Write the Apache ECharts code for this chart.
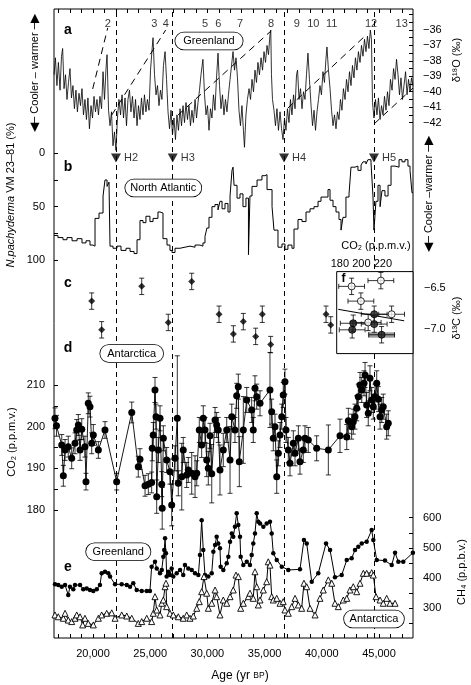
<!DOCTYPE html>
<html><head><meta charset="utf-8">
<script src="https://cdn.jsdelivr.net/npm/echarts@6/dist/echarts.min.js"></script>
<style>html,body{margin:0;padding:0;background:#fff}#c{width:471px;height:685px}</style>
</head><body><div id="c"></div>
<script>
// ---------------- DATA ----------------
const ageTicks = [17000,18000,19000,20000,21000,22000,23000,24000,25000,26000,27000,28000,29000,30000,31000,32000,33000,34000,35000,36000,37000,38000,39000,40000,41000,42000,43000,44000,45000,46000,47000];
const ageLabels = [20000,25000,30000,35000,40000,45000];
const d18Labels = [-36,-37,-38,-39,-40,-41,-42];
const d18Ticks = [-35,-35.5,-36,-36.5,-37,-37.5,-38,-38.5,-39,-39.5,-40,-40.5,-41,-41.5,-42];
const pachyLabels = [0,50,100];
const pachyTicks = [0,25,50,75,100];
const c13Labels = [-6.5,-7.0];
const c13Ticks = [-6.3,-6.4,-6.5,-6.6,-6.7,-6.8,-6.9,-7.0,-7.1,-7.2];
const co2Labels = [180,190,200,210];
const co2Ticks = [180,185,190,195,200,205,210];
const ch4Labels = [300,400,500,600];
const ch4Ticks = [250,300,350,400,450,500,550,600];
const insetLabels = [180,200,220];

// Heinrich events
const hNames = ['H2','H3','H4','H5'];
const hAges = [22010,26970,36700,44560];

// Interstadial numbers (panel a)
const isNums = ['2','3','4','5','6','7','8','9','10','11','12','13'];
const isAges = [21290,25360,26360,29790,30950,32850,35560,37810,39260,40860,44300,46980];

// Greenland d18O (age yr BP, permil)
const d18O = [[16600,-38.9],[16720,-37.8],[16850,-39.6],[16980,-38.1],[17120,-39.9],[17250,-37.7],[17350,-37.2],[17470,-39.8],[17600,-38.9],[17730,-40.5],[17860,-39.4],[17990,-38.5],[18120,-40.4],[18250,-39.6],[18380,-41.1],[18510,-39.9],[18640,-41.3],[18780,-40.1],[18910,-40.9],[19040,-39.8],[19170,-41.5],[19300,-40.5],[19430,-41.8],[19560,-40.4],[19690,-42.4],[19830,-40.9],[19960,-41.7],[20090,-40.3],[20220,-41.3],[20350,-40.5],[20480,-41.5],[20610,-40.3],[20750,-41.1],[20880,-38.7],[21010,-40.5],[21140,-38.5],[21230,-37.6],[21360,-41.2],[21490,-42.2],[21620,-41.3],[21750,-43.5],[21880,-42.6],[22010,-43.8],[22140,-41.7],[22270,-40.5],[22410,-41.5],[22540,-40.2],[22670,-41.7],[22800,-40.4],[22930,-42.2],[23060,-40.5],[23190,-39.9],[23320,-41.3],[23450,-40.3],[23590,-41.7],[23720,-40.5],[23850,-42.2],[23980,-40.9],[24110,-41.8],[24240,-40.4],[24370,-41.5],[24500,-40.2],[24630,-41.3],[24760,-40.5],[24900,-41.2],[25030,-38.6],[25160,-37.3],[25250,-36.5],[25380,-38.9],[25510,-40.2],[25640,-39.6],[25770,-40.9],[25900,-39.9],[26030,-40.5],[26160,-38.3],[26300,-37.4],[26430,-39.2],[26560,-41.3],[26690,-42.4],[26820,-41.2],[26950,-42.8],[27080,-41.7],[27210,-43.1],[27340,-41.5],[27470,-42.5],[27610,-41.1],[27740,-42.2],[27870,-40.9],[28000,-42.0],[28130,-40.7],[28260,-41.8],[28390,-40.9],[28520,-42.2],[28650,-41.2],[28780,-42.0],[28920,-40.5],[29050,-41.7],[29180,-40.7],[29310,-39.9],[29440,-38.9],[29610,-37.9],[29750,-40.2],[29880,-41.5],[30010,-40.9],[30140,-42.5],[30270,-41.1],[30400,-41.7],[30530,-40.2],[30660,-41.2],[30790,-39.2],[30930,-37.5],[31060,-39.6],[31190,-41.1],[31320,-40.2],[31450,-41.5],[31580,-40.5],[31710,-41.3],[31840,-40.2],[31980,-39.2],[32110,-38.3],[32240,-37.4],[32370,-38.6],[32500,-37.8],[32630,-39.1],[32760,-41.2],[32890,-42.2],[33020,-40.9],[33150,-42.5],[33240,-43.6],[33370,-41.5],[33500,-40.5],[33640,-39.8],[33770,-40.5],[33900,-39.2],[34030,-40.0],[34160,-38.6],[34290,-39.4],[34420,-38.1],[34550,-38.9],[34690,-37.8],[34820,-38.6],[34950,-37.4],[35080,-38.1],[35210,-37.0],[35340,-37.6],[35470,-36.3],[35540,-36.0],[35600,-38.9],[35690,-40.5],[35820,-41.2],[35950,-42.2],[36080,-41.1],[36210,-42.5],[36350,-41.3],[36480,-42.4],[36610,-43.1],[36740,-41.7],[36870,-42.5],[37000,-41.1],[37130,-42.0],[37260,-40.5],[37390,-41.5],[37530,-40.2],[37660,-41.1],[37790,-38.9],[37880,-38.6],[38010,-40.5],[38140,-39.8],[38270,-41.1],[38400,-40.0],[38530,-40.5],[38660,-38.9],[38790,-37.5],[38920,-39.2],[39060,-40.9],[39190,-42.2],[39320,-41.2],[39450,-42.5],[39580,-41.3],[39710,-40.5],[39840,-39.6],[39970,-40.2],[40100,-38.7],[40230,-39.4],[40360,-37.9],[40450,-37.1],[40580,-38.6],[40720,-39.8],[40850,-41.2],[40980,-42.2],[41110,-41.5],[41240,-42.4],[41370,-41.3],[41500,-41.8],[41630,-40.5],[41760,-41.2],[41890,-39.8],[42030,-40.5],[42160,-39.2],[42290,-40.0],[42420,-38.7],[42550,-39.6],[42680,-38.3],[42810,-39.1],[42940,-37.8],[43070,-38.6],[43200,-37.4],[43340,-38.1],[43470,-37.0],[43600,-37.7],[43730,-36.6],[43860,-37.4],[43990,-36.4],[44120,-37.2],[44240,-36.0],[44340,-36.6],[44430,-40.7],[44560,-41.7],[44690,-40.5],[44820,-41.5],[44950,-40.4],[45090,-41.8],[45220,-40.9],[45350,-41.5],[45480,-40.3],[45610,-41.2],[45740,-40.0],[45870,-40.9],[46000,-39.2],[46140,-39.9],[46270,-38.5],[46400,-39.2],[46530,-37.9],[46660,-38.9],[46790,-40.2],[46920,-39.1],[47050,-40.5],[47180,-39.6],[47320,-38.7],[47450,-40.2],[47580,-39.2],[47710,-40.0],[47840,-39.1],[47960,-39.6]];

// Sawtooth (Bond cycle) trend lines: [startAge, startVal, endAge, endVal]
const sawLines = [[19976,-39.82,21287,-35.87],[21637,-41.51,26356,-36.0],[27431,-41.51,35559,-36.06],[37045,-41.05,43688,-36.45],[44562,-42.09,47970,-39.76]];

// N. pachyderma (%) step record
const pachy = [[16600,77],[16940,79],[17380,81],[17730,79],[18170,82],[18610,80],[19040,84],[19390,82],[19740,86],[20000,87],[20180,61],[20530,56],[20880,40],[21050,25],[21230,31],[21400,27],[21490,87],[21750,89],[22100,87],[22450,91],[22890,89],[23240,92],[23590,94],[23850,81],[24110,63],[24370,65],[24630,59],[24980,64],[25250,61],[25680,55],[25860,56],[26120,80],[26470,86],[26730,91],[26910,93],[27170,89],[27610,88],[28040,87],[28480,88],[28920,86],[29350,87],[29610,84],[29790,78],[29960,70],[30140,60],[30400,50],[30660,48],[30930,53],[31100,45],[31280,52],[31540,47],[31800,55],[31980,40],[32150,16],[32240,13],[32330,30],[32590,42],[32850,38],[33110,50],[33370,42],[33590,95],[33720,40],[33900,31],[34340,25],[34770,21],[35030,20],[35210,34],[35650,50],[35820,72],[36170,88],[36520,85],[36780,90],[37040,86],[37390,89],[37570,71],[37920,62],[38270,64],[38620,55],[38970,52],[39320,50],[39670,45],[39930,41],[40280,41],[40540,34],[40720,44],[40980,50],[41240,55],[41500,62],[41680,72],[41850,60],[42110,41],[42380,38],[42550,13],[42900,12],[43160,16],[43430,11],[43600,8],[43860,10],[44030,6],[44300,9],[44470,40],[44560,72],[44730,45],[44910,30],[45090,50],[45260,35],[45520,40],[45790,30],[46050,12],[46400,13],[46750,6],[47010,8],[47270,6],[47530,12],[47710,16],[47880,37],[47970,37]];
const hMarkerVal = 4.4;

// delta13C of CO2 (panel c)
const c13Age = [19890,20760,24260,26580,28630,31020,32270,33140,34220,34800,35530,40370,40780];
const c13Val = [-6.66,-7.01,-6.48,-6.92,-6.42,-6.82,-7.06,-6.91,-7.09,-6.82,-7.19,-6.82,-6.95];
const c13Err = 0.1;

// Inset f: CO2 vs delta13C
const fCO2 = [218.1,190.9,199.5,211.9,228.1,192.4,206.3,211.9,191.4,218.8];
const fC13 = [-6.41,-6.48,-6.66,-6.82,-6.82,-6.93,-6.92,-6.94,-7.01,-7.07];
const fFilled = [false,false,false,true,false,true,false,true,true,true];
const fCO2Err = 12;
const fC13Err = 0.1;
const fReg = [[178.4,-6.76],[239.8,-6.90]];
const fShade = [206.3,231.2,-7.04,-7.106];

// Antarctic CO2 (age, ppmv, error)
const co2 = [[16680,202.0,2.5],[16810,200.2,2.5],[17270,195.6,2.5],[17410,188.2,2.5],[17560,194.4,2.5],[17840,195.2,2.5],[18140,192.4,2.5],[18430,196.0,2.5],[18580,199.2,2.5],[18720,200.4,2.5],[18870,194.4,2.5],[19020,199.4,2.5],[19300,195.2,2.5],[19390,186.8,2],[19590,205.6,2.5],[19740,204.8,2.5],[19890,196.0,2.5],[20030,198.0,2.5],[20470,194.4,2],[21050,199.2,2],[22070,186.8,2],[23390,203.4,2.5],[23960,190.4,2.5],[24110,192.2,2.5],[24550,185.8,2.5],[24840,186.2,2.5],[25130,186.6,2.5],[25180,194.8,3],[25270,198.0,3],[25420,208.8,3],[25510,202.4,3],[25570,183.2,4],[25710,194.4,3],[25860,202.0,3],[26010,186.2,3],[26050,180.4,5],[26150,197.2,3],[26440,192.0,3],[26730,189.2,3],[26880,181.2,5],[27170,192.4,3],[27370,202.0,15],[27460,186.4,3],[27760,188.0,8],[27890,194.4,3],[28190,188.4,3],[28330,189.6,3],[28630,188.8,5],[28920,188.0,5],[29070,188.8,3],[29290,199.2,3],[29500,195.6,3],[29640,202.0,3],[29790,199.2,3],[29940,192.0,4],[30080,190.0,4],[30230,197.8,3],[30380,188.7,7],[30670,201.6,3],[30810,200.4,3],[30950,199.2,3],[31100,189.6,6],[31390,194.4,4],[31690,199.2,3],[31980,192.0,8],[32130,202.4,3],[32410,199.2,3],[32560,207.4,3],[32700,209.6,3],[32790,191.6,6],[33140,199.2,8],[33440,206.4,3],[33870,204.0,3],[34010,199.2,3],[34160,209.2,3],[34310,207.2,3],[34600,205.6,3],[35470,208.8,9],[35620,203.6,3],[35760,197.2,3],[35910,200.0,3],[36060,188.0,4],[36200,193.6,3],[36350,198.0,3],[36500,202.4,3],[36630,207.6,3],[36780,210.8,3],[36870,199.2,3],[37070,194.4,3],[37220,191.2,3],[37510,196.0,3],[37660,193.6,3],[37950,197.2,3],[38090,191.6,3],[38380,194.4,3],[38530,197.2,3],[38820,196.8,3],[39550,194.8,3],[40570,194.4,6],[41590,197.8,4],[42180,197.5,3],[42320,201.4,3],[42610,200.0,3],[42750,201.2,3],[42900,202.4,3],[43050,204.4,3],[43190,207.2,3],[43340,210.0,3],[43490,208.8,3],[43690,210.4,3],[43780,212.4,3],[43920,205.2,3],[44060,203.2,3],[44210,211.6,3],[44360,206.4,3],[44500,204.8,3],[44650,207.2,3],[44800,210.4,3],[44940,206.6,3],[45090,202.4,3],[45240,204.0,3],[45370,204.8,3],[45670,200.0,3],[45810,200.8,3]];

// CH4 Greenland (age, ppbv)
const ch4Green = [[16680,379.5],[16970,377],[17270,371.5],[17560,377],[17840,344],[17990,371.5],[18280,363],[18430,377],[18870,377],[19150,363],[19450,366],[19740,360.6],[20030,357],[20330,363],[20610,377],[20760,416],[21050,421],[21340,416],[21490,405],[21930,379.5],[22510,379.5],[22950,377],[23240,371.5],[23520,383],[23820,360.6],[24260,357],[24700,357],[24980,357],[25130,438],[25420,454],[25570,432],[25860,416],[26010,427],[26150,471],[26230,493],[26300,532],[26380,482],[26440,405],[26580,421],[26730,410],[26880,432],[27020,405],[27320,416],[27610,427],[27890,410],[28040,443],[28330,432],[28630,427],[28920,416],[29210,410],[29350,476.5],[29500,592],[29640,493],[29790,410],[30080,405],[30380,416],[30520,487],[30670,510],[30810,537],[30950,515],[31100,499],[31160,438],[31390,427],[31690,449],[31830,471],[31980,520.5],[32130,548],[32260,537],[32410,570],[32560,614.6],[32700,576],[32850,537],[32910,471],[33140,443],[33440,454],[33720,443],[33870,476.5],[34010,515],[34160,548],[34310,614.6],[34450,587],[34600,581],[34890,570],[35180,581],[35470,587],[35620,548],[35760,482],[36060,460],[36500,438],[37070,427],[38090,429],[38440,526],[38680,515],[39120,388],[39690,416],[40370,515],[40720,493],[41150,403],[41740,410],[42180,460],[42610,466],[42900,493],[43190,504],[43490,515],[43920,520.5],[44360,559],[44500,526],[44800,460],[45520,458],[46110,443],[46400,484],[46690,454],[47120,454],[47960,484]];

// CH4 Antarctica (age, ppbv)
const ch4Ant = [[16680,278],[16970,272],[17410,267],[17560,283.5],[17840,261],[18140,256],[18430,267],[18580,278],[18870,272],[19100,245],[19300,267],[19590,250],[20030,245],[20470,267],[20760,278],[21200,283.5],[21640,285],[21930,267],[22510,278],[22950,274.5],[23390,267],[23960,250],[24260,256],[24700,267],[25130,256],[25270,283.5],[25420,338.5],[25570,294.4],[25860,278],[26010,316.6],[26150,327.5],[26300,371.5],[26380,383],[26440,305.5],[26730,283.5],[27020,278],[27460,272],[27890,267],[28190,278],[28480,267],[28770,274.5],[29070,300],[29290,322],[29500,355],[29700,405],[29940,350],[30080,300],[30380,316.6],[30670,360.6],[30810,338.5],[31100,278],[31390,327.5],[31690,316.6],[31980,338.5],[32260,360.6],[32500,410],[32700,405],[32910,300],[33140,316.6],[33580,338.5],[33720,350],[34010,333],[34160,421],[34310,371.5],[34450,311],[34600,327.5],[34890,360.6],[35180,388],[35320,454],[35470,443],[35620,338.5],[35760,327.5],[36060,333],[36350,316.6],[36630,322],[36780,294.4],[37070,283.5],[37370,305.5],[37660,333],[37950,311],[38240,300],[38440,383],[38680,371.5],[38970,300],[39410,278],[39840,333],[40130,360.6],[40570,394],[40870,383],[41150,316.6],[41440,305.5],[41880,327.5],[42180,333],[42460,360.6],[42750,371.5],[43050,355],[43340,383],[43630,416],[43920,416],[44360,418],[44500,410],[44740,338.5],[45090,327.5],[45370,316.6],[45670,333],[45960,316.6],[46400,316.6]];

// ---------------- CHART ----------------
const XMIN = 16594, XMAX = 47970;
const FONT = 'Liberation Sans, Arial, Helvetica, sans-serif';
const BLACK = '#000';
const minus = v => (v < 0 ? '\u2212' : '') + Math.abs(v);
const tk = { show: true, inside: true, length: 4, lineStyle: { color: BLACK, width: 1 } };
const lbl = { color: BLACK, fontSize: 11, fontFamily: FONT };

function hiddenX(g) { return { gridIndex: g, type: 'value', min: XMIN, max: XMAX, show: false }; }

function vErr(capW) {
  return function (params, api) {
    const x = api.value(0), y = api.value(1), e = api.value(2);
    const p1 = api.coord([x, y + e]), p2 = api.coord([x, y - e]);
    const s = { stroke: BLACK, lineWidth: 0.8 };
    return { type: 'group', children: [
      { type: 'line', shape: { x1: p1[0], y1: p1[1], x2: p2[0], y2: p2[1] }, style: s },
      { type: 'line', shape: { x1: p1[0] - capW, y1: p1[1], x2: p1[0] + capW, y2: p1[1] }, style: s },
      { type: 'line', shape: { x1: p2[0] - capW, y1: p2[1], x2: p2[0] + capW, y2: p2[1] }, style: s }
    ]};
  };
}
function xyErr(params, api) {
  const x = api.value(0), y = api.value(1), ex = api.value(2), ey = api.value(3);
  const a = api.coord([x - ex, y]), b = api.coord([x + ex, y]);
  const c = api.coord([x, y + ey]), d = api.coord([x, y - ey]);
  const s = { stroke: BLACK, lineWidth: 0.8 }, w = 2.5;
  return { type: 'group', children: [
    { type: 'line', shape: { x1: a[0], y1: a[1], x2: b[0], y2: b[1] }, style: s },
    { type: 'line', shape: { x1: a[0], y1: a[1] - w, x2: a[0], y2: a[1] + w }, style: s },
    { type: 'line', shape: { x1: b[0], y1: b[1] - w, x2: b[0], y2: b[1] + w }, style: s },
    { type: 'line', shape: { x1: c[0], y1: c[1], x2: d[0], y2: d[1] }, style: s },
    { type: 'line', shape: { x1: c[0] - w, y1: c[1], x2: c[0] + w, y2: c[1] }, style: s },
    { type: 'line', shape: { x1: d[0] - w, y1: d[1], x2: d[0] + w, y2: d[1] }, style: s }
  ]};
}

function txt(x, y, text, opt) {
  opt = opt || {};
  return { type: 'text', x: x, y: y, z: 100, rotation: opt.rot || 0,
    style: Object.assign({ text: text, align: 'center', verticalAlign: 'middle', fill: BLACK,
      fontSize: opt.size || 11, fontFamily: FONT, fontWeight: opt.bold ? 'bold' : 'normal' }, opt.style || {}) };
}
function box(x, y, text, padX) {
  return txt(x, y, text, { style: { backgroundColor: '#fff', borderColor: BLACK, borderWidth: 0.8,
    borderRadius: 9, padding: [3, padX, 3, padX] } });
}
const arrowRich = { a: { fontSize: 12, fontFamily: FONT, fill: BLACK }, t: { fontSize: 11, fontFamily: FONT, fill: BLACK } };

const option = {
  animation: false,
  backgroundColor: '#fff',
  textStyle: { fontFamily: FONT },
  grid: [
    { left: 54, top: 9, width: 359, height: 629, show: true, borderColor: BLACK, borderWidth: 1, backgroundColor: 'transparent', z: 0 },
    { left: 54, top: 14.57, width: 359, height: 138.9 },
    { left: 54, top: 153.3, width: 359, height: 106.7 },
    { left: 54, top: 271.6, width: 359, height: 82 },
    { left: 336.7, top: 271.6, width: 76.3, height: 82, show: true, borderColor: BLACK, borderWidth: 1, backgroundColor: '#fff', z: 1 },
    { left: 54, top: 343.3, width: 359, height: 175 },
    { left: 54, top: 499.6, width: 359, height: 138.9 }
  ],
  xAxis: [
    { gridIndex: 0, type: 'value', min: XMIN, max: XMAX, position: 'bottom',
      axisLine: { show: false }, splitLine: { show: false },
      axisTick: Object.assign({ customValues: ageTicks }, tk),
      axisLabel: Object.assign({ customValues: ageLabels, margin: 10, formatter: v => v.toLocaleString('en-US') }, lbl) },
    { gridIndex: 0, type: 'value', min: XMIN, max: XMAX, position: 'top',
      axisLine: { show: false }, splitLine: { show: false },
      axisTick: Object.assign({ customValues: ageTicks }, tk), axisLabel: { show: false } },
    hiddenX(1), hiddenX(2), hiddenX(3),
    { gridIndex: 4, type: 'value', min: 177, max: 248, position: 'top',
      axisLine: { show: false }, axisTick: { show: false }, splitLine: { show: false },
      axisLabel: Object.assign({ customValues: insetLabels, margin: 2 }, lbl) },
    hiddenX(5), hiddenX(6)
  ],
  yAxis: [
    { gridIndex: 0, type: 'value', min: 0, max: 1, show: false },
    { gridIndex: 1, type: 'value', min: -44, max: -35, position: 'right',
      axisLine: { show: false }, splitLine: { show: false },
      axisTick: Object.assign({ customValues: d18Ticks }, tk),
      axisLabel: Object.assign({ customValues: d18Labels, margin: 10, formatter: minus }, lbl) },
    { gridIndex: 2, type: 'value', min: 0, max: 100, inverse: true, position: 'left',
      axisLine: { show: false }, splitLine: { show: false },
      axisTick: Object.assign({ customValues: pachyTicks }, tk),
      axisLabel: Object.assign({ customValues: pachyLabels, margin: 9 }, lbl) },
    { gridIndex: 3, type: 'value', min: -7.3, max: -6.3, position: 'right',
      axisLine: { show: false }, splitLine: { show: false },
      axisTick: Object.assign({ customValues: c13Ticks }, tk),
      axisLabel: Object.assign({ customValues: c13Labels, margin: 11, formatter: v => (v < 0 ? '\u2212' : '') + Math.abs(v).toFixed(1) }, lbl) },
    { gridIndex: 4, type: 'value', min: -7.3, max: -6.3, show: false },
    { gridIndex: 5, type: 'value', min: 178, max: 220, position: 'left',
      axisLine: { show: false }, splitLine: { show: false },
      axisTick: Object.assign({ customValues: co2Ticks }, tk),
      axisLabel: Object.assign({ customValues: co2Labels, margin: 9 }, lbl) },
    { gridIndex: 6, type: 'value', min: 200, max: 660, position: 'right',
      axisLine: { show: false }, splitLine: { show: false },
      axisTick: Object.assign({ customValues: ch4Ticks }, tk),
      axisLabel: Object.assign({ customValues: ch4Labels, margin: 10 }, lbl) }
  ],
  series: [
    // Heinrich vertical dashed lines across the whole figure
    { type: 'lines', coordinateSystem: 'cartesian2d', xAxisIndex: 0, yAxisIndex: 0, z: 0, silent: true,
      lineStyle: { color: BLACK, width: 1, type: [5, 4], opacity: 1 },
      data: hAges.map(a => ({ coords: [[a, 0], [a, 1]] })) },
    // a: d18O
    { type: 'line', xAxisIndex: 2, yAxisIndex: 1, data: d18O, showSymbol: false, symbol: 'none',
      lineStyle: { color: BLACK, width: 0.8 } },
    { type: 'lines', coordinateSystem: 'cartesian2d', xAxisIndex: 2, yAxisIndex: 1, silent: true,
      lineStyle: { color: BLACK, width: 1, type: [7, 5], opacity: 1 },
      data: sawLines.map(s => ({ coords: [[s[0], s[1]], [s[2], s[3]]] })) },
    { type: 'scatter', xAxisIndex: 2, yAxisIndex: 1, symbolSize: 0.1, itemStyle: { color: 'transparent' },
      data: isAges.map(a => [a, -35.61]),
      label: { show: true, position: 'inside', formatter: p => isNums[p.dataIndex], color: BLACK, fontSize: 11, fontFamily: FONT } },
    // b: N. pachyderma
    { type: 'line', xAxisIndex: 3, yAxisIndex: 2, data: pachy, step: 'end', showSymbol: false, symbol: 'none',
      lineStyle: { color: BLACK, width: 1 } },
    { type: 'scatter', xAxisIndex: 3, yAxisIndex: 2, symbol: 'triangle', symbolRotate: 180, symbolSize: [10, 9],
      itemStyle: { color: BLACK }, data: hAges.map(a => [a, hMarkerVal]),
      label: { show: true, position: 'right', distance: 3, formatter: p => hNames[p.dataIndex], color: BLACK, fontSize: 11, fontFamily: FONT } },
    // c: d13C
    { type: 'custom', xAxisIndex: 4, yAxisIndex: 3, renderItem: vErr(2.5), encode: { x: 0, y: 1 },
      data: c13Age.map((a, i) => [a, c13Val[i], c13Err]) },
    { type: 'scatter', xAxisIndex: 4, yAxisIndex: 3, symbol: 'diamond', symbolSize: 7, itemStyle: { color: BLACK },
      data: c13Age.map((a, i) => [a, c13Val[i]]) },
    // f: inset
    { type: 'custom', xAxisIndex: 5, yAxisIndex: 4, z: 3, encode: { x: 0, y: 2 },
      renderItem: (params, api) => {
        const p1 = api.coord([api.value(0), api.value(2)]), p2 = api.coord([api.value(1), api.value(3)]);
        return { type: 'rect', shape: { x: p1[0], y: p1[1], width: p2[0] - p1[0], height: p2[1] - p1[1] }, style: { fill: '#9a9a9a' } };
      }, data: [fShade] },
    { type: 'lines', coordinateSystem: 'cartesian2d', xAxisIndex: 5, yAxisIndex: 4, z: 3,
      lineStyle: { color: BLACK, width: 1, opacity: 1 }, data: [{ coords: fReg }] },
    { type: 'custom', xAxisIndex: 5, yAxisIndex: 4, z: 4, renderItem: xyErr, encode: { x: 0, y: 1 },
      data: fCO2.map((c, i) => [c, fC13[i], fCO2Err, fC13Err]) },
    { type: 'scatter', xAxisIndex: 5, yAxisIndex: 4, z: 5, symbol: 'circle', symbolSize: 7,
      data: fCO2.map((c, i) => ({ value: [c, fC13[i]], itemStyle: { color: fFilled[i] ? '#222' : '#fff', borderColor: BLACK, borderWidth: 1 } })) },
    // d: CO2
    { type: 'custom', xAxisIndex: 6, yAxisIndex: 5, renderItem: vErr(2.5), encode: { x: 0, y: 1 }, data: co2 },
    { type: 'line', xAxisIndex: 6, yAxisIndex: 5, data: co2.map(d => [d[0], d[1]]), symbol: 'circle', symbolSize: 7,
      showSymbol: true, itemStyle: { color: BLACK }, lineStyle: { color: BLACK, width: 0.9 } },
    // e: CH4
    { type: 'line', xAxisIndex: 7, yAxisIndex: 6, data: ch4Green, symbol: 'circle', symbolSize: 4.5,
      showSymbol: true, itemStyle: { color: BLACK }, lineStyle: { color: BLACK, width: 1 } },
    { type: 'line', xAxisIndex: 7, yAxisIndex: 6, data: ch4Ant, symbol: 'triangle', symbolSize: 6,
      showSymbol: true, itemStyle: { color: '#fff', borderColor: BLACK, borderWidth: 0.9 }, lineStyle: { color: BLACK, width: 1 } }
  ],
  graphic: [
    txt(68, 30, 'a', { bold: true, size: 14 }),
    txt(68, 167, 'b', { bold: true, size: 14 }),
    txt(68, 283, 'c', { bold: true, size: 14 }),
    txt(68, 348, 'd', { bold: true, size: 14 }),
    txt(68, 567, 'e', { bold: true, size: 14 }),
    txt(343.5, 279, 'f', { bold: true, size: 12 }),
    box(209, 41, 'Greenland', 8),
    box(163.3, 188, 'North Atlantic', 5),
    box(131.7, 353.5, 'Antarctica', 7),
    box(118.3, 551.7, 'Greenland', 6.5),
    box(374, 619, 'Antarctica', 5.5),
    txt(35, 73, '{a|\u25C0\u2013} {t|Cooler \u2013 warmer} {a|\u2013\u25B6}', { rot: Math.PI / 2, style: { rich: arrowRich } }),
    txt(429, 194, '{a|\u25C0\u2013} {t|Cooler \u2013warmer} {a|\u2013\u25B6}', { rot: Math.PI / 2, style: { rich: arrowRich } }),
    txt(457, 60, '\u03B4\u00B9\u2078O (\u2030)', { rot: Math.PI / 2 }),
    txt(457, 318, '\u03B4\u00B9\u00B3C (\u2030)', { rot: Math.PI / 2 }),
    txt(462, 572, 'CH\u2084 (p.p.b.v.)', { rot: Math.PI / 2 }),
    txt(11, 195, '{i|N.pachyderma} {t|VM 23\u201381 (%)}', { rot: Math.PI / 2,
      style: { rich: { i: { fontStyle: 'italic', fontSize: 11, fontFamily: FONT, fill: BLACK }, t: { fontSize: 11, fontFamily: FONT, fill: BLACK } } } }),
    txt(12, 442, 'CO\u2082 (p.p.m.v.)', { rot: Math.PI / 2 }),
    txt(376, 246, 'CO\u2082 (p.p.m.v.)'),
    txt(240, 676, '{t|Age (yr }{s|BP}{t|)}', { style: { rich: { t: { fontSize: 12, fontFamily: FONT, fill: BLACK }, s: { fontSize: 8.5, fontFamily: FONT, fill: BLACK } } } })
  ]
};

const chart = echarts.init(document.getElementById('c'), null, { renderer: 'canvas' });
chart.setOption(option);
</script>
</body></html>
